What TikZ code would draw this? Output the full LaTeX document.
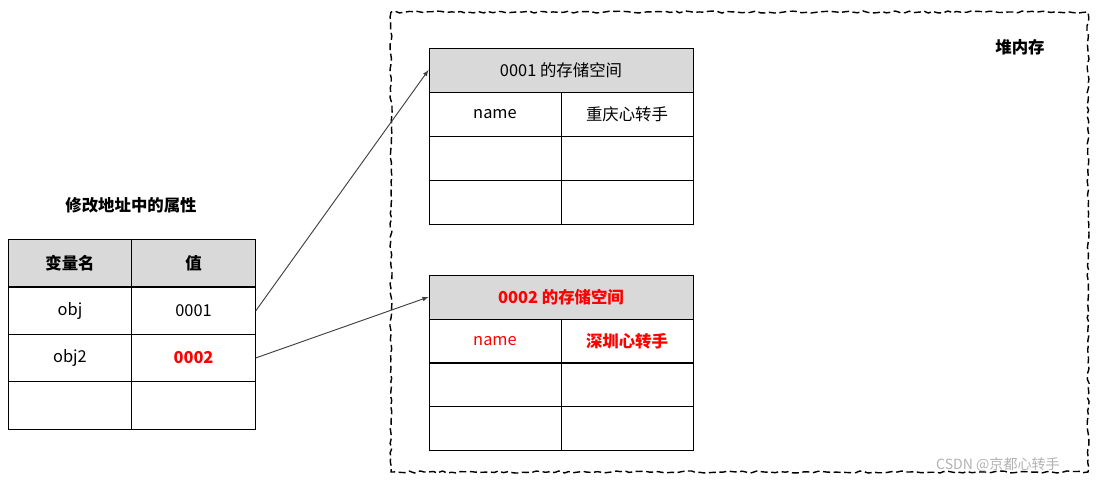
\documentclass[tikz,border=0pt]{standalone}
\usepackage{fontspec}
\setmainfont{Noto Sans CJK SC}
\usetikzlibrary{decorations.pathmorphing}
\begin{document}
\begin{tikzpicture}[x=0.03cm,y=-0.03cm,
  font=\fontsize{14}{16}\selectfont,
  cell/.style={draw,thick,minimum width=3.96cm,minimum height=1.32cm,inner sep=0pt},
  lcell/.style={draw,thick,minimum width=3.7cm,minimum height=1.42cm,inner sep=0pt},
  head/.style={fill=gray!30},
  hot/.style={text=red},
  link/.style={draw=black!75,thick,-latex}]
\useasboundingbox (0,0) rectangle (1100,485);
% heap border
\draw [very thick,dash pattern=on 6pt off 3pt,decorate,decoration={random steps,segment length=4pt,amplitude=0.9pt}]
  (391,12) rectangle (1088,472);
\node (heap) at (1020,47) {\bfseries 堆内存};
% left table
\node (title) at (131,205) {\bfseries 修改地址中的属性};
\node [lcell,head] (h1) at (70,263) {\bfseries 变量名};
\node [lcell,head] (h2) at (193.5,263) {\bfseries 值};
\node [lcell] (a1) at (70,311) {obj};
\node [lcell] (a2) at (193.5,311) {0001};
\node [lcell] (b1) at (70,358) {obj2};
\node [lcell,hot] (b2) at (193.5,358) {\bfseries 0002};
\node [lcell] (c1) at (70,405.5) {};
\node [lcell] (c2) at (193.5,405.5) {};
% top storage
\node [draw,thick,head,minimum width=7.92cm,minimum height=1.32cm,inner sep=0pt] (s1) at (561,70) {0001 的存储空间};
\node [cell] (s1n) at (495,114) {name};
\node [cell] (s1v) at (627,114) {重庆心转手};
\foreach \y in {158,202}{
  \node [cell] at (495,\y) {};
  \node [cell] at (627,\y) {};
}
% bottom storage
\node [draw,thick,head,hot,minimum width=7.92cm,minimum height=1.32cm,inner sep=0pt] (s2) at (561,297) {\bfseries 0002 的存储空间};
\node [cell,hot] (s2n) at (495,341) {name};
\node [cell,hot] (s2v) at (627,341) {\bfseries 深圳心转手};
\foreach \y in {384.5,428}{
  \node [cell] at (495,\y) {};
  \node [cell] at (627,\y) {};
}
% pointers
\draw [link] (a2.east) -- (s1.west);
\draw [link] (b2.east) -- (s2.west);
\node [text=gray!60] (mark) at (998,465) {\fontsize{12}{14}\selectfont CSDN @京都心转手};
\end{tikzpicture}
\end{document}
